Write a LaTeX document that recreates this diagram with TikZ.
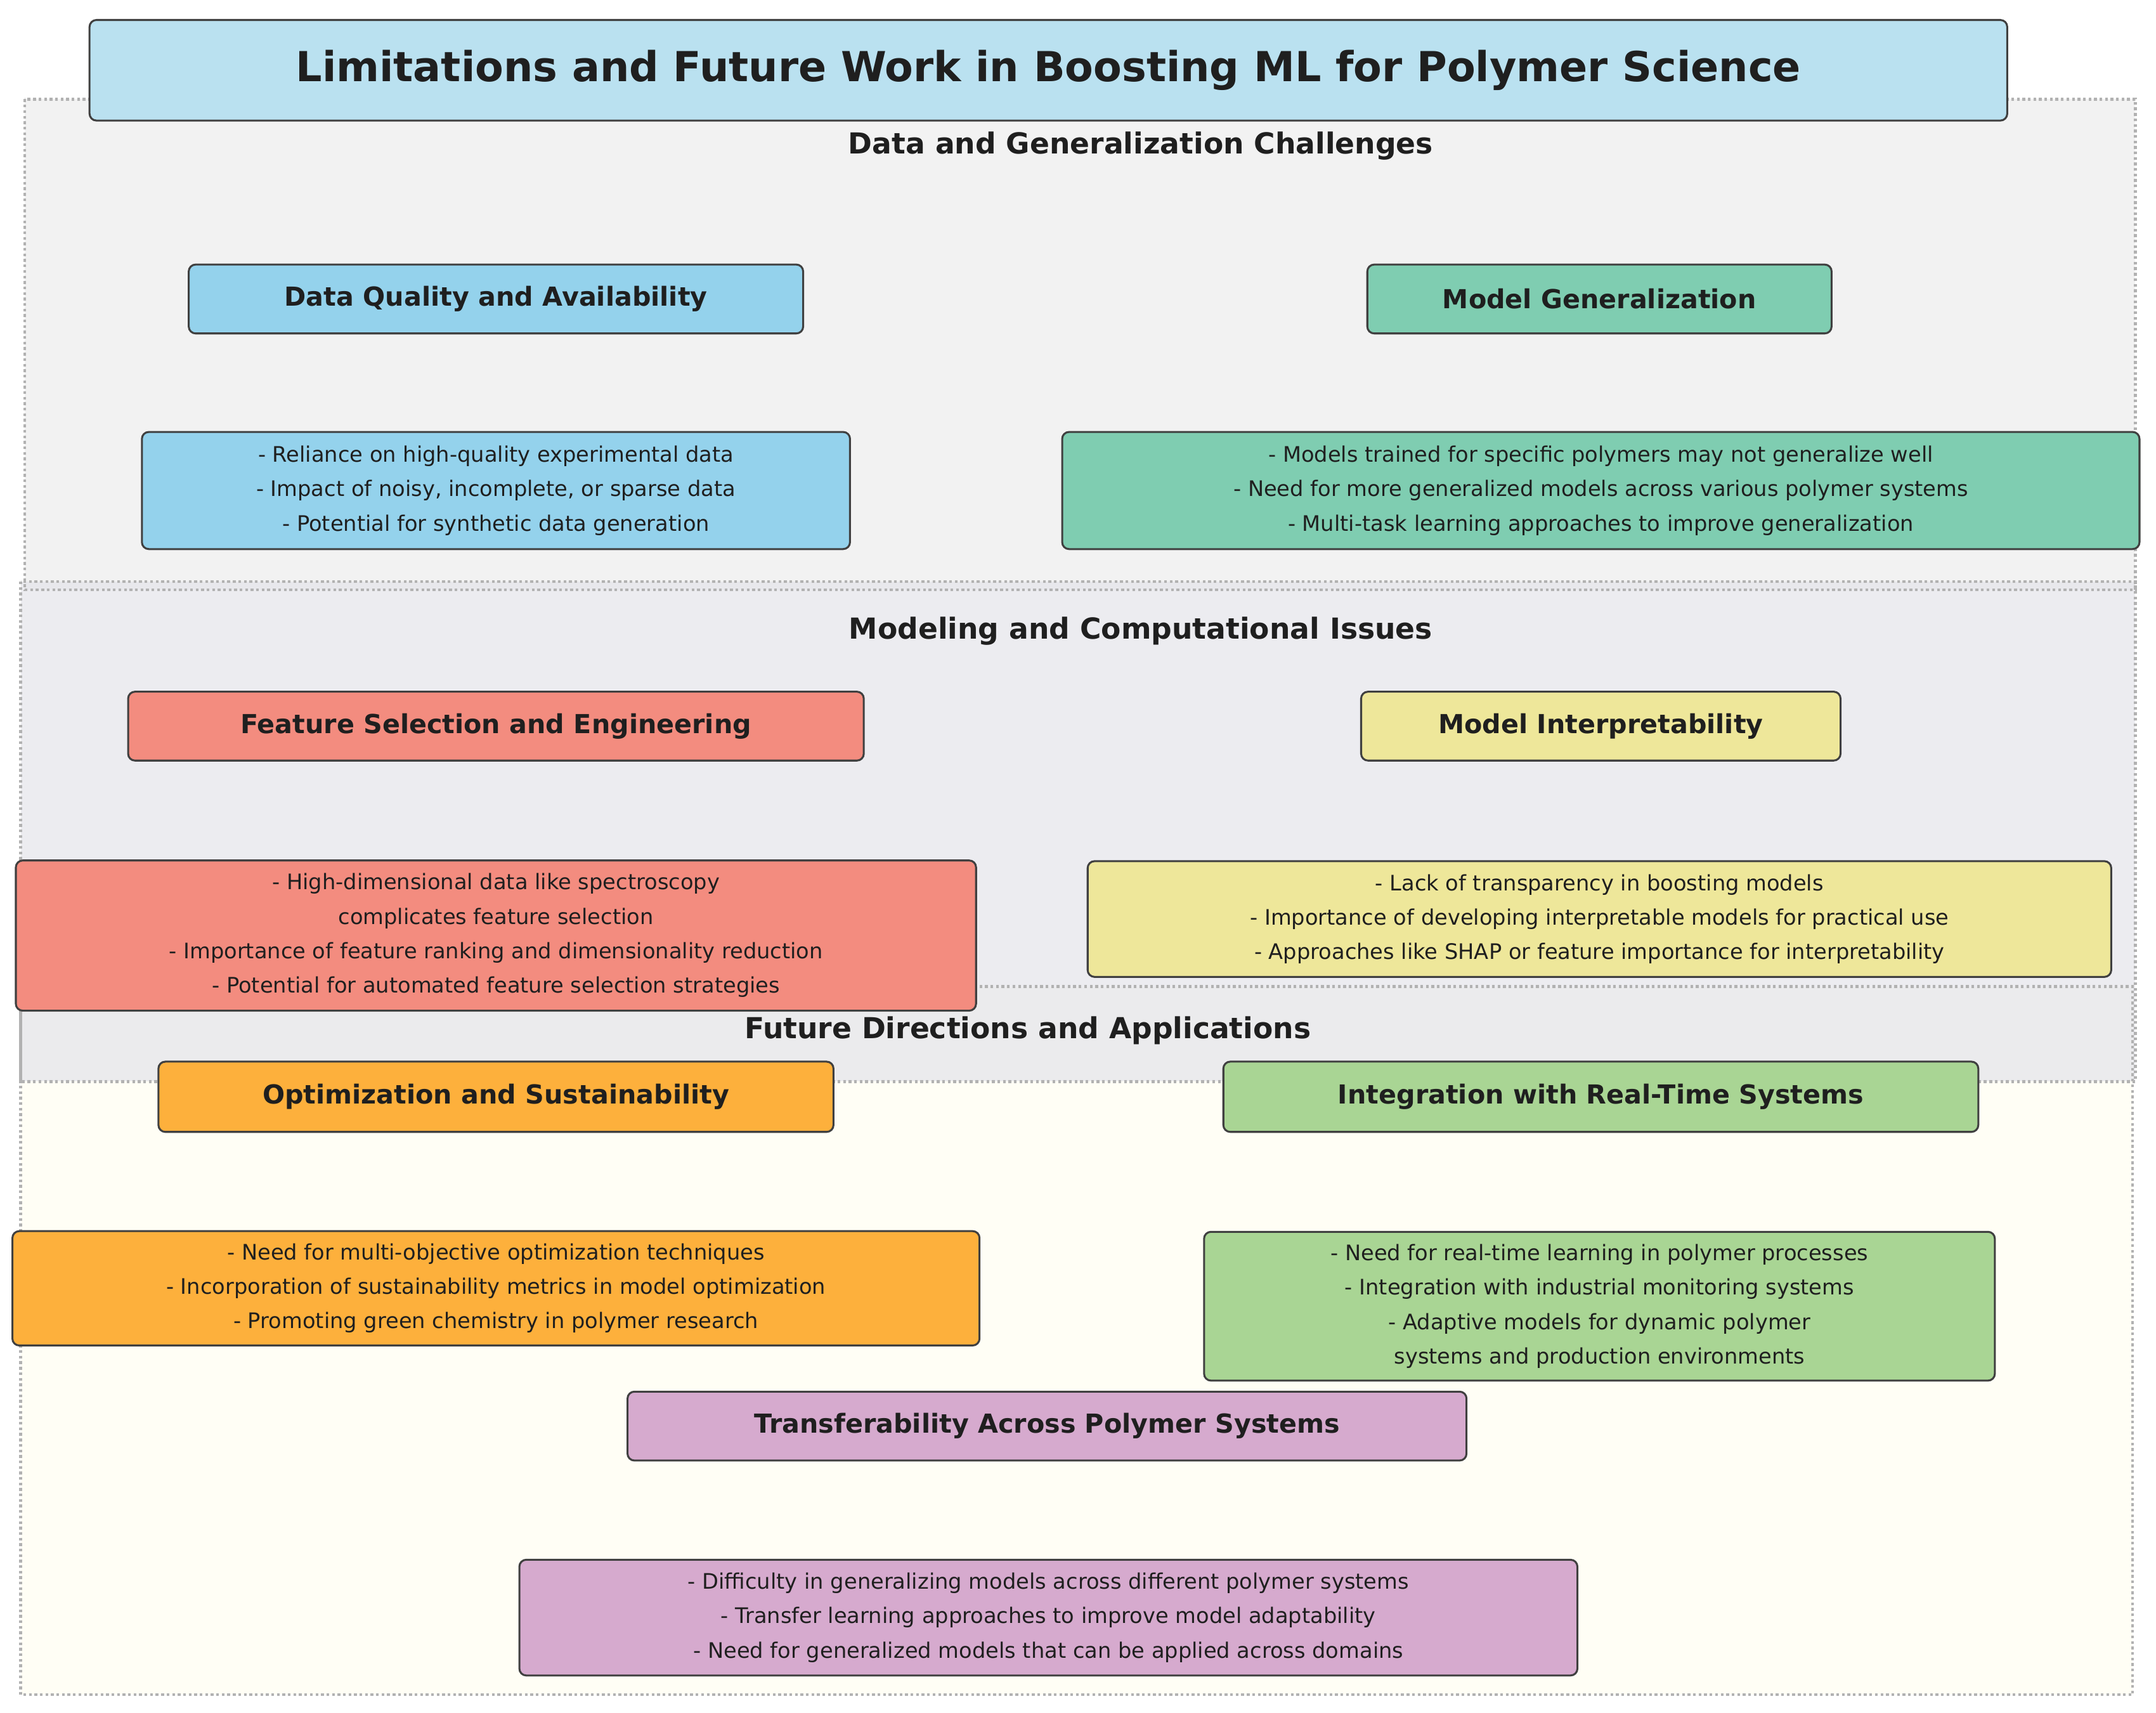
\documentclass[tikz,border=0pt]{standalone}
\usepackage{fontspec}
\setmainfont{DejaVu Sans}
\begin{document}
\begin{tikzpicture}[x=1pt,y=-1pt,
 box/.style={draw=black!75,line width=1.4pt,rounded corners=5pt,inner sep=0pt,align=center,text=black!88},
 head/.style={box,font=\fontsize{19}{23}\selectfont\bfseries},
 body/.style={box,font=\fontsize{15.5}{25}\selectfont},
 clab/.style={font=\fontsize{21}{25}\selectfont\bfseries,text=black!88},
 clus/.style={draw=black!30,line width=2pt,dotted}]
\useasboundingbox (0,0) rectangle (1565,1243);
\fill[black!5] (18,72) rectangle (1550,428);
\fill[yellow!40!white!85!black!3,fill=white!96!yellow] (15,716) rectangle (1548,1230);
\fill[blue!20!black!10!white, fill opacity=0.75] (15,422) rectangle (1550,785);
\draw[clus] (18,72) rectangle (1550,428);
\draw[clus] (15,422) rectangle (1550,785);
\draw[clus] (15,716) rectangle (1548,1230);
\node[clab] (c1) at (828,106) {Data and Generalization Challenges};
\node[clab] (c2) at (828,458) {Modeling and Computational Issues};
\node[clab] (c3) at (746,748) {Future Directions and Applications};
\node[box,fill=cyan!25!white!95!black,minimum width=1392,minimum height=73,font=\fontsize{30}{36}\selectfont\bfseries] (title) at (761,51) {Limitations and Future Work in Boosting ML for Polymer Science};
\definecolor{cdq}{HTML}{94D2EC}\definecolor{cmg}{HTML}{7FCDB1}
\definecolor{cfs}{HTML}{F38C7F}\definecolor{cmi}{HTML}{EEE79A}
\definecolor{cop}{HTML}{FDB03C}\definecolor{cin}{HTML}{A9D594}
\definecolor{ctr}{HTML}{D6AACE}
\node[head,fill=cdq,minimum width=446,minimum height=50] (dq) at (360,217) {Data Quality and Availability};
\node[head,fill=cmg,minimum width=337,minimum height=50] (mg) at (1161,217) {Model Generalization};
\node[body,fill=cdq,minimum width=514,minimum height=85] (dqt) at (360,356) {- Reliance on high-quality experimental data\\- Impact of noisy, incomplete, or sparse data\\- Potential for synthetic data generation};
\node[body,fill=cmg,minimum width=782,minimum height=85] (mgt) at (1162,356) {- Models trained for specific polymers may not generalize well\\- Need for more generalized models across various polymer systems\\- Multi-task learning approaches to improve generalization};
\node[head,fill=cfs,minimum width=534,minimum height=50] (fs) at (360,527) {Feature Selection and Engineering};
\node[head,fill=cmi,minimum width=348,minimum height=50] (mi) at (1162,527) {Model Interpretability};
\node[body,fill=cfs,minimum width=697,minimum height=109] (fst) at (360,679) {- High-dimensional data like spectroscopy\\complicates feature selection\\- Importance of feature ranking and dimensionality reduction\\- Potential for automated feature selection strategies};
\node[body,fill=cmi,minimum width=743,minimum height=84] (mit) at (1161,667) {- Lack of transparency in boosting models\\- Importance of developing interpretable models for practical use\\- Approaches like SHAP or feature importance for interpretability};
\node[head,fill=cop,minimum width=490,minimum height=51] (op) at (360,796) {Optimization and Sustainability};
\node[head,fill=cin,minimum width=548,minimum height=51] (in) at (1162,796) {Integration with Real-Time Systems};
\node[body,fill=cop,minimum width=702,minimum height=83] (opt) at (360,935) {- Need for multi-objective optimization techniques\\- Incorporation of sustainability metrics in model optimization\\- Promoting green chemistry in polymer research};
\node[body,fill=cin,minimum width=574,minimum height=108] (int) at (1161,948) {- Need for real-time learning in polymer processes\\- Integration with industrial monitoring systems\\- Adaptive models for dynamic polymer\\systems and production environments};
\node[head,fill=ctr,minimum width=609,minimum height=50] (tr) at (760,1035) {Transferability Across Polymer Systems};
\node[body,fill=ctr,minimum width=768,minimum height=84] (trt) at (761,1174) {- Difficulty in generalizing models across different polymer systems\\- Transfer learning approaches to improve model adaptability\\- Need for generalized models that can be applied across domains};
\end{tikzpicture}
\end{document}
